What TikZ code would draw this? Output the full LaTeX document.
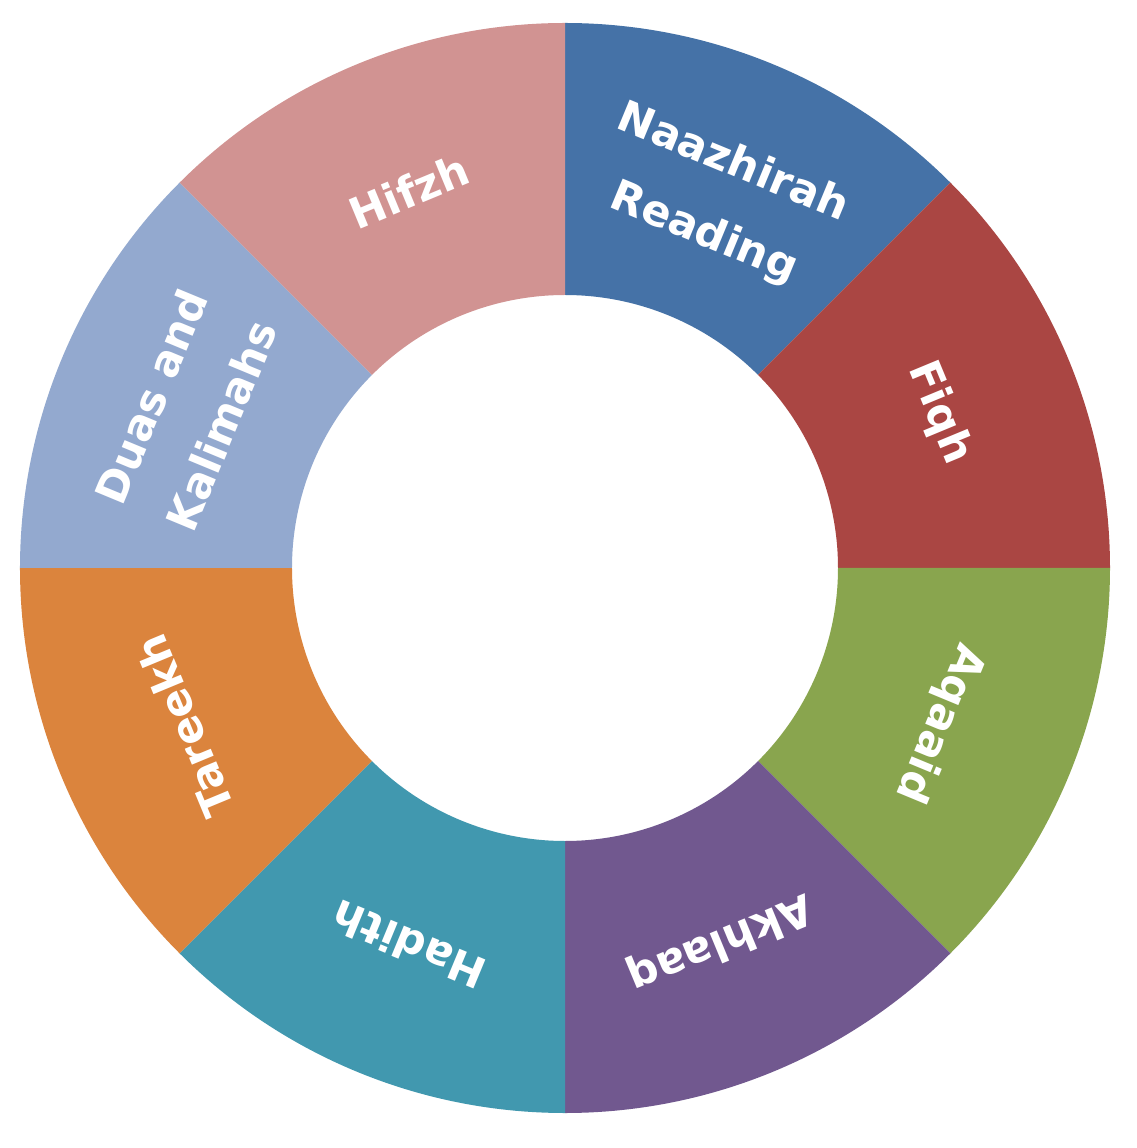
\documentclass[tikz,border=0pt]{standalone}
\usepackage{fontspec}
\setmainfont{DejaVu Sans}
\usepackage{tikz}
\usepackage{xcolor}

\definecolor{colhifzh}{HTML}{D19392}
\definecolor{colnaaz}{HTML}{4572A7}
\definecolor{colfiqh}{HTML}{AA4643}
\definecolor{colaqaaid}{HTML}{89A54E}
\definecolor{colakhlaaq}{HTML}{71588F}
\definecolor{colhadith}{HTML}{4198AF}
\definecolor{coltareekh}{HTML}{DB843D}
\definecolor{colduas}{HTML}{93A9CF}

\begin{document}
\begin{tikzpicture}[x=1pt, y=1pt,
  etichetta/.style={text=white, align=center, inner sep=0pt,
    font=\fontsize{43}{76}\selectfont\bfseries}]
% Cornice (stesse proporzioni del riferimento)
\useasboundingbox (-565,-580) rectangle (571,568);
\fill[white] (-565,-580) rectangle (571,568);
% Fette della corona (raggio interno 273, esterno 545)
\fill[colnaaz]    (90:273)   -- (90:545)   arc[start angle=90,   end angle=45,   radius=545] -- (45:273)   arc[start angle=45,   end angle=90,   radius=273] -- cycle;
\fill[colfiqh]    (45:273)   -- (45:545)   arc[start angle=45,   end angle=0,    radius=545] -- (0:273)    arc[start angle=0,    end angle=45,   radius=273] -- cycle;
\fill[colaqaaid]  (0:273)    -- (0:545)    arc[start angle=0,    end angle=-45,  radius=545] -- (-45:273)  arc[start angle=-45,  end angle=0,    radius=273] -- cycle;
\fill[colakhlaaq] (-45:273)  -- (-45:545)  arc[start angle=-45,  end angle=-90,  radius=545] -- (-90:273)  arc[start angle=-90,  end angle=-45,  radius=273] -- cycle;
\fill[colhadith]  (-90:273)  -- (-90:545)  arc[start angle=-90,  end angle=-135, radius=545] -- (-135:273) arc[start angle=-135, end angle=-90,  radius=273] -- cycle;
\fill[coltareekh] (-135:273) -- (-135:545) arc[start angle=-135, end angle=-180, radius=545] -- (180:273)  arc[start angle=180,  end angle=225,  radius=273] -- cycle;
\fill[colduas]    (180:273)  -- (180:545)  arc[start angle=180,  end angle=135,  radius=545] -- (135:273)  arc[start angle=135,  end angle=180,  radius=273] -- cycle;
\fill[colhifzh]   (135:273)  -- (135:545)  arc[start angle=135,  end angle=90,   radius=545] -- (90:273)   arc[start angle=90,   end angle=135,  radius=273] -- cycle;
% Etichette
\node[etichetta, rotate=-22.5]  (naaz)    at (67.5:400)   {Naazhirah\\Reading};
\node[etichetta, rotate=-67.5]  (fiqh)    at (22.5:405)   {Fiqh};
\node[etichetta, rotate=-112.5] (aqaaid)  at (-22.5:405)  {Aqaaid};
\node[etichetta, rotate=-157.5] (akhlaaq) at (-67.5:405)  {Akhlaaq};
\node[etichetta, rotate=157.5]  (hadith)  at (-112.5:408) {Hadith};
\node[etichetta, rotate=112.5]  (tareekh) at (-157.5:412) {Tareekh};
\node[etichetta, rotate=67.5]   (duas)    at (157.5:410)  {Duas and\\Kalimahs};
\node[etichetta, rotate=22.5]   (hifzh)   at (112.5:408)  {Hifzh};
\end{tikzpicture}
\end{document}
